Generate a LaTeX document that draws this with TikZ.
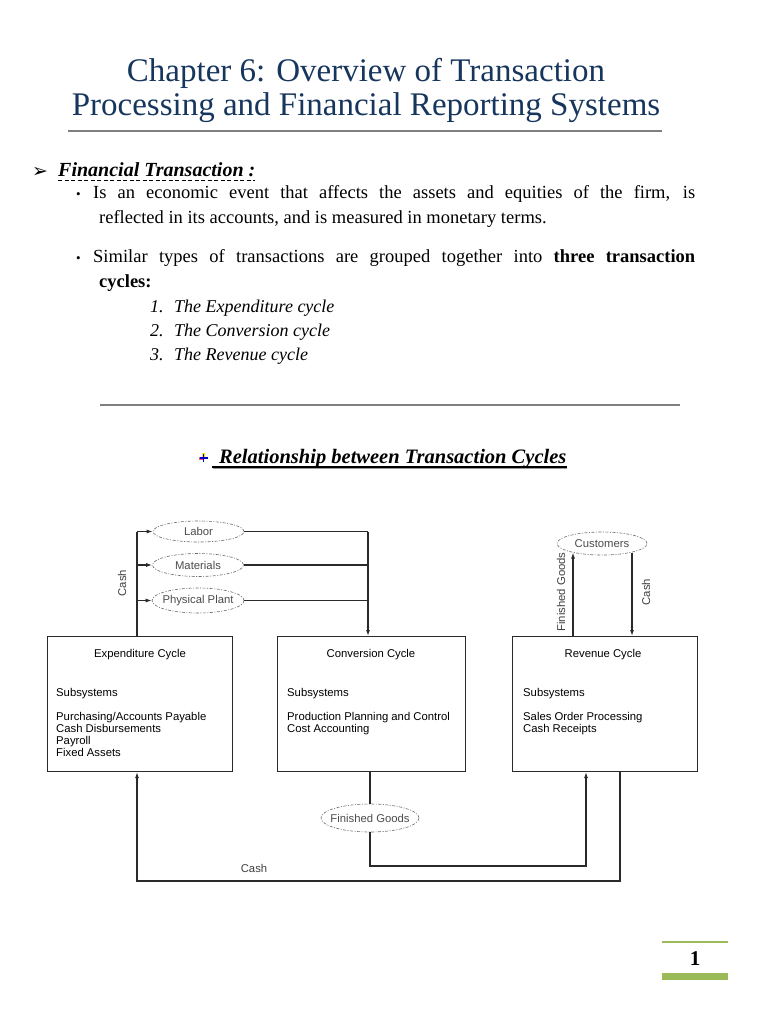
\documentclass[tikz,border=0pt]{standalone}
\usepackage{fontspec}
\setmainfont{Liberation Serif}
\newfontfamily\arialf{Liberation Sans}
\newfontfamily\djv{DejaVu Sans}
\usetikzlibrary{shapes.geometric,arrows.meta,calc}
\definecolor{titleblue}{HTML}{17365D}
\definecolor{rulegray}{HTML}{7F7F7F}
\definecolor{pggreen}{HTML}{9BBB59}
\definecolor{lnc}{HTML}{2A2A2A}
\definecolor{ellgray}{HTML}{6A6A6A}
\begin{document}
\begin{tikzpicture}[x=1pt,y=-1pt,
  titlefont/.style={font=\fontsize{33}{38}\selectfont, text=titleblue, inner sep=0, anchor=base},
  body/.style={font=\fontsize{18.5}{22}\selectfont, inner sep=0, anchor=base west},
  listitem/.style={font=\fontsize{18}{22}\selectfont\itshape, inner sep=0, anchor=base west},
  cyclebox/.style={draw=lnc, line width=1.1pt, minimum height=135pt, inner sep=0, anchor=north west},
  boxtext/.style={font=\arialf\fontsize{11.3}{12}\selectfont, inner sep=0, anchor=base west},
  boxhead/.style={font=\arialf\fontsize{11.3}{12}\selectfont, inner sep=0, anchor=center},
  flowell/.style={ellipse, draw=ellgray, dash pattern=on 3pt off 1.5pt on 1pt off 1.5pt, line width=0.6pt, inner sep=0, font=\arialf\fontsize{11.3}{12}\selectfont, text=black!70},
  conn/.style={draw=lnc, line width=1.1pt},
  arr/.style={conn, -{Latex[length=6pt,width=4pt]}},
  lbl/.style={font=\arialf\fontsize{11.3}{12}\selectfont, text=black!75, inner sep=0}
]
\useasboundingbox (0,0) rectangle (768,1024);
\fill[white] (0,0) rectangle (768,1024);

% Title
\node[titlefont] (t1) at (366,82) {Chapter 6: Overview of Transaction};
\node[titlefont] (t2) at (366,116) {Processing and Financial Reporting Systems};
\draw[rulegray, line width=2pt] (68,131) -- (662,131);

% Financial transaction
\node[inner sep=0, anchor=base west, font=\djv\fontsize{19}{22}\selectfont] (arrowbul) at (32,178) {➢};
\node[font=\fontsize{20}{24}\selectfont\bfseries\itshape, anchor=base west, inner sep=0] (ft) at (58,177) {Financial Transaction :};
\draw[dash pattern=on 4pt off 2.5pt, line width=1pt] ([yshift=-4pt]ft.base west) -- ([yshift=-4pt]ft.base east);

\node[body, font=\fontsize{13}{16}\selectfont] (b1dot) at (76,199) {•};
\node[body] (b1l1) at (93,199) {\makebox[602pt][s]{Is an economic event that affects the assets and equities of the firm, is}};
\node[body] (b1l2) at (99,223) {reflected in its accounts, and is measured in monetary terms.};

\node[body, font=\fontsize{13}{16}\selectfont] (b2dot) at (76,262) {•};
\node[body] (b2l1) at (93,262) {\makebox[602pt][s]{Similar types of transactions are grouped together into \textbf{three transaction}}};
\node[body, font=\fontsize{18.5}{22}\selectfont\bfseries] (b2l2) at (99,287) {cycles:};

\node[listitem] (n1) at (150,312) {1.};
\node[listitem] (i1) at (174,312) {The Expenditure cycle};
\node[listitem] (n2) at (150,336) {2.};
\node[listitem] (i2) at (174,336) {The Conversion cycle};
\node[listitem] (n3) at (150,360) {3.};
\node[listitem] (i3) at (174,360) {The Revenue cycle};

\draw[rulegray, line width=1.2pt] (100,405) -- (680,405);

% Heading with icon
\fill[red!65] (198.5,456.5) rectangle (203,459.5);
\fill[yellow!85!orange] (202,452.5) rectangle (205,456.5);
\fill[blue!80!black] (202.5,453.5) rectangle (204.2,462);
\fill[blue!80!black] (199.5,457.3) rectangle (207.5,459);
\node[font=\fontsize{20.5}{24}\selectfont\bfseries\itshape, anchor=base west, inner sep=0] (rel) at (219,463) {Relationship between Transaction Cycles};
\draw[black!40, line width=1pt] ([xshift=-6pt,yshift=-5.5pt]rel.base west) -- ([yshift=-5.5pt]rel.base east);
\draw[black, line width=1.1pt] ([xshift=-7pt,yshift=-4pt]rel.base west) -- ([yshift=-4pt]rel.base east);

% Cycle boxes
\node[cyclebox, minimum width=185pt] (exp) at (47,636) {};
\node[cyclebox, minimum width=188pt] (conv) at (277,636) {};
\node[cyclebox, minimum width=185pt] (rev) at (512,636) {};

\node[boxhead] (exph) at (140,655) {Expenditure Cycle};
\node[boxtext] (exps) at (56,696) {Subsystems};
\node[boxtext] (expa) at (56,720) {Purchasing/Accounts Payable};
\node[boxtext] (expb) at (56,732) {Cash Disbursements};
\node[boxtext] (expc) at (56,744) {Payroll};
\node[boxtext] (expd) at (56,756) {Fixed Assets};

\node[boxhead] (convh) at (371,655) {Conversion Cycle};
\node[boxtext] (convs) at (287,696) {Subsystems};
\node[boxtext] (conva) at (287,720) {Production Planning and Control};
\node[boxtext] (convb) at (287,732) {Cost Accounting};

\node[boxhead] (revh) at (603,655) {Revenue Cycle};
\node[boxtext] (revs) at (523,696) {Subsystems};
\node[boxtext] (reva) at (523,720) {Sales Order Processing};
\node[boxtext] (revb) at (523,732) {Cash Receipts};

% Ellipses
\node[flowell, minimum width=91pt, minimum height=21pt] (labor) at (198.5,531.5) {Labor};
\node[flowell, minimum width=91pt, minimum height=23pt] (materials) at (198,565) {Materials};
\node[flowell, minimum width=92pt, minimum height=25pt, inner xsep=-3.8pt] (plant) at (198,600.5) {Physical Plant};
\node[flowell, minimum width=90pt, minimum height=23pt] (cust) at (602,543.5) {Customers};
\node[flowell, minimum width=98pt, minimum height=28pt, inner xsep=-5pt] (fg) at (370,818) {Finished Goods};

% Top left connectors
\coordinate (ct) at (137,531.5);
\coordinate (cr) at (368,531.5);
\draw[conn] (exp.north -| ct) -- (ct);
\draw[arr] (ct) -- (labor);
\draw[arr] (ct |- materials) -- (materials);
\draw[arr] (ct |- plant) -- (plant);
\draw[conn] (labor) -- (cr);
\draw[conn] (materials) -- (materials -| cr);
\draw[conn] (plant) -- (plant -| cr);
\draw[arr] (cr) -- (conv.north -| cr);
\node[lbl, rotate=90] (cashl) at (122,583) {Cash};

% Revenue / customers
\coordinate (fgtop) at (573,552.5);
\coordinate (cashtop) at (632,552.5);
\draw[arr] (rev.north -| fgtop) -- (fgtop);
\draw[arr] (cashtop) -- (rev.north -| cashtop);
\node[lbl, rotate=90] (fgl) at (561,592) {Finished Goods};
\node[lbl, rotate=90] (cashr) at (646,592) {Cash};

% Bottom connectors
\coordinate (fgc) at (370,866);
\coordinate (fgin) at (586,771);
\coordinate (cashb) at (620,881);
\draw[conn] (conv.south -| fgc) -- (fg.north);
\draw[arr] (fg.south) -- (fgc) -- (fgc -| fgin) -- (rev.south -| fgin);
\draw[arr] (rev.south -| cashb) -- (cashb) -- (cashb -| ct) -- (exp.south -| ct);
\node[lbl] (cashbl) at (254,868) {Cash};

% Page number
\draw[pggreen, line width=1.5pt] (662,942) -- (728,942);
\fill[pggreen] (662,973) rectangle (728,980);
\node[font=\fontsize{21}{24}\selectfont\bfseries, inner sep=0, anchor=base] (pg) at (695,965) {1};
\end{tikzpicture}
\end{document}
